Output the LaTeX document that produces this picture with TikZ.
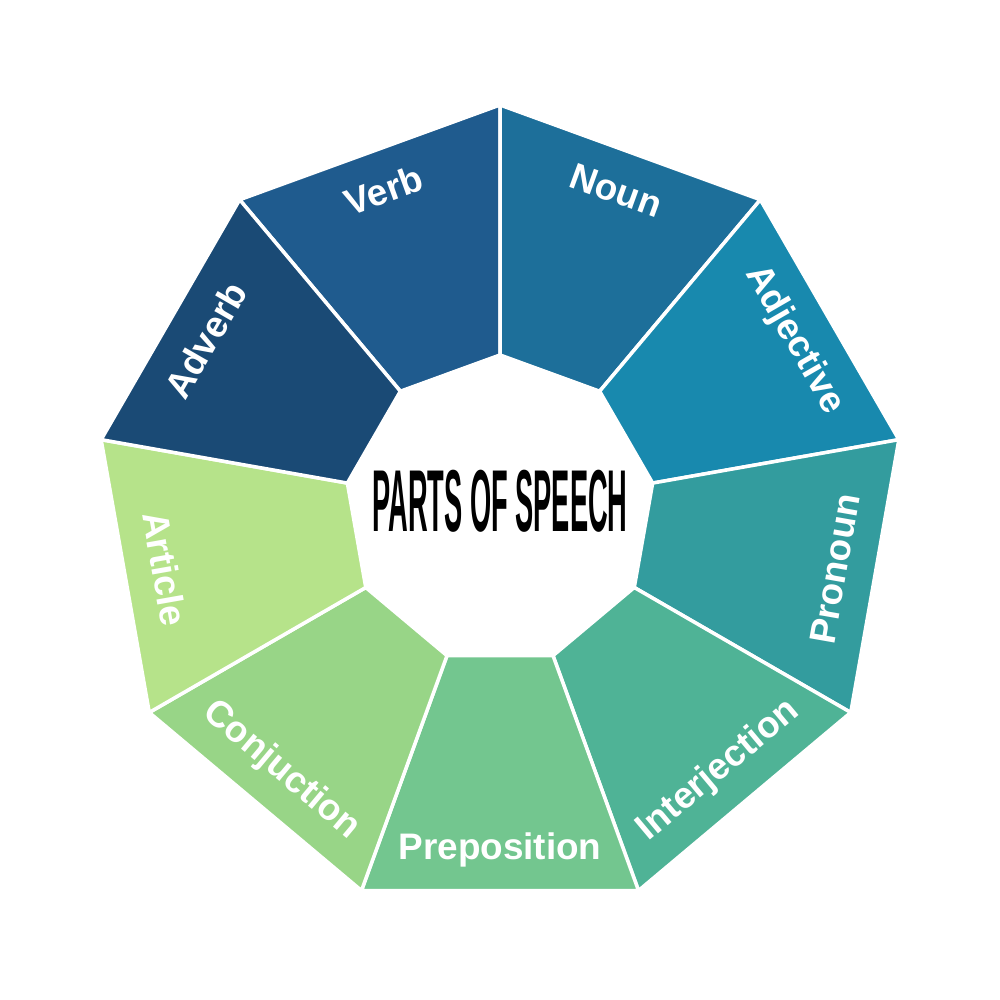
\documentclass[tikz,border=0pt]{standalone}
\usepackage{fontspec}
\setmainfont{Liberation Sans}
\usetikzlibrary{calc}
\begin{document}
\begin{tikzpicture}
\useasboundingbox (0,0) rectangle (10,10);
\fill[white] (0,0) rectangle (10,10);
\tikzset{lab/.style={text=white,font=\bfseries\fontsize{10.5}{12}\selectfont}}
\coordinate (c) at (5,4.9);
\def\R{4.05}\def\r{1.55}
\foreach \a/\col/\t/\rot in {110/1F5B8E/Verb/20, 70/1D6F9A/Noun/-20, 30/1889AE/Adjective/-60, -10/339C9E/Pronoun/80, -50/4FB396/Interjection/40, -90/73C68F/Preposition/0, -130/98D587/Conjuction/-40, -170/B6E38A/Article/-80, 150/1A4A75/Adverb/60}{
  \definecolor{segc}{HTML}{\col}
  \fill[segc,draw=white,line width=1pt] ($(c)+(\a+20:\R)$) -- ($(c)+(\a-20:\R)$) -- ($(c)+(\a-20:\r)$) -- ($(c)+(\a+20:\r)$) -- cycle;
  \node[lab,rotate=\rot] (n\t) at ($(c)+(\a:3.4)$) {\t};
}
\node[font=\bfseries\fontsize{25}{27}\selectfont] (title) at (5,4.99) {\scalebox{0.31}[1]{PARTS OF SPEECH}};
\end{tikzpicture}
\end{document}
